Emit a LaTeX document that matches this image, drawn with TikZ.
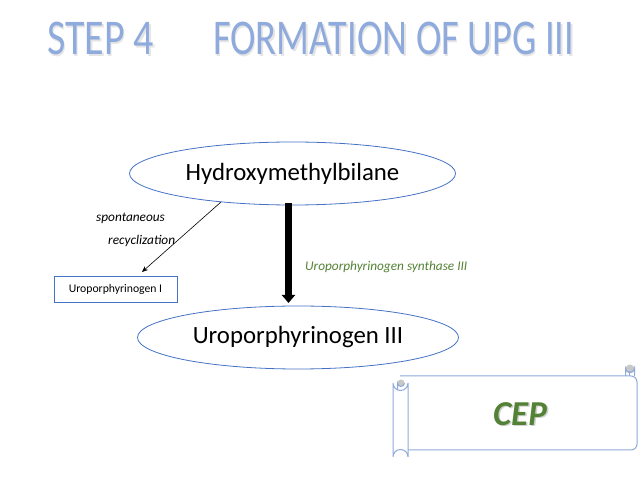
\documentclass[tikz,border=0pt]{standalone}
\usepackage{fontspec}
\setmainfont{Carlito}
\usetikzlibrary{shapes.geometric,arrows.meta}
\definecolor{titleblue}{RGB}{143,170,220}
\definecolor{shapeblue}{RGB}{68,114,196}
\definecolor{scrollblue}{RGB}{143,170,220}
\definecolor{enzgreen}{RGB}{84,130,53}
\definecolor{cepgreen}{RGB}{83,129,53}
\definecolor{curlgrey}{RGB}{200,200,200}
\tikzset{
  title/.style={font=\fontsize{50}{56}\selectfont, text=titleblue, anchor=base west, inner sep=0, xscale=0.8},
  ovalnode/.style={ellipse, draw=shapeblue, line width=0.8pt, minimum width=#1, minimum height=63, inner sep=0, font=\fontsize{24.8}{28}\selectfont},
  smallbox/.style={draw=shapeblue, line width=0.8pt, minimum width=123, minimum height=26, inner sep=0, font=\fontsize{11.7}{13}\selectfont},
  note/.style={font=\fontsize{13.3}{15}\selectfont\itshape, inner sep=0},
  scrollline/.style={draw=scrollblue, line width=1pt},
}
\begin{document}
\begin{tikzpicture}[x=1pt,y=-1pt]
\useasboundingbox (0,0) rectangle (638,478);
% title
\node[title, text=gray!20] at (48.5,56.5) {STEP 4};
\node[title, text=gray!20, xscale=0.96] at (214.5,56.5) {FORMATION OF UPG III};
\node[title] (t1) at (47,55) {STEP 4};
\node[title, xscale=0.96] (t2) at (213,55) {FORMATION OF UPG III};
% ovals
\node[ovalnode=326] (hmb) at (292.5,173.5) {Hydroxymethylbilane};
\node[ovalnode=321] (upg3) at (298,337.5) {Uroporphyrinogen III};
\node[smallbox] (upg1) at (115.5,289) {Uroporphyrinogen I};
% thick arrow
\draw[line width=6.5pt, -{Triangle[width=13pt,length=8pt]}] (288.5,203.5) -- (288.5,303);
% thin arrow
\coordinate (a1) at (221,202);
\coordinate (a2) at (142,272);
\draw[line width=0.6pt, -{Stealth[length=6pt,width=5pt]}] (a1) -- (a2);
% labels
\node[note, anchor=west] (sp) at (96,218) {spontaneous};
\node[note, anchor=west] (rc) at (108,241) {recyclization};
\node[note, anchor=west, text=enzgreen] (enz) at (305,267) {Uroporphyrinogen synthase III};
% scroll
\draw[scrollline, fill=white, rounded corners=6pt] (400,376) -- (637,376) -- (637,450) -- (408,450);
\fill[curlgrey] (630,369) circle (4.5pt);
\draw[scrollline] (625.5,376) -- (625.5,368) arc (180:0:4.5) -- (634.5,376);
\draw[scrollline] (629,371) -- (629,376);
% left roll
\draw[scrollline, fill=white] (393,383) arc (180:0:7.5) -- (408,457) arc (0:-180:7.5) -- cycle;
\fill[curlgrey] (401,383) circle (3.5pt);
\draw[scrollline] (397.5,390) -- (397.5,383) arc (180:0:3.5) ;
\node[font=\fontsize{35}{40}\selectfont\bfseries\itshape, text=gray!35, inner sep=0] at (521.5,415.5) {CEP};
\node[font=\fontsize{35}{40}\selectfont\bfseries\itshape, text=cepgreen, inner sep=0] (cep) at (520,414) {CEP};
\end{tikzpicture}
\end{document}
